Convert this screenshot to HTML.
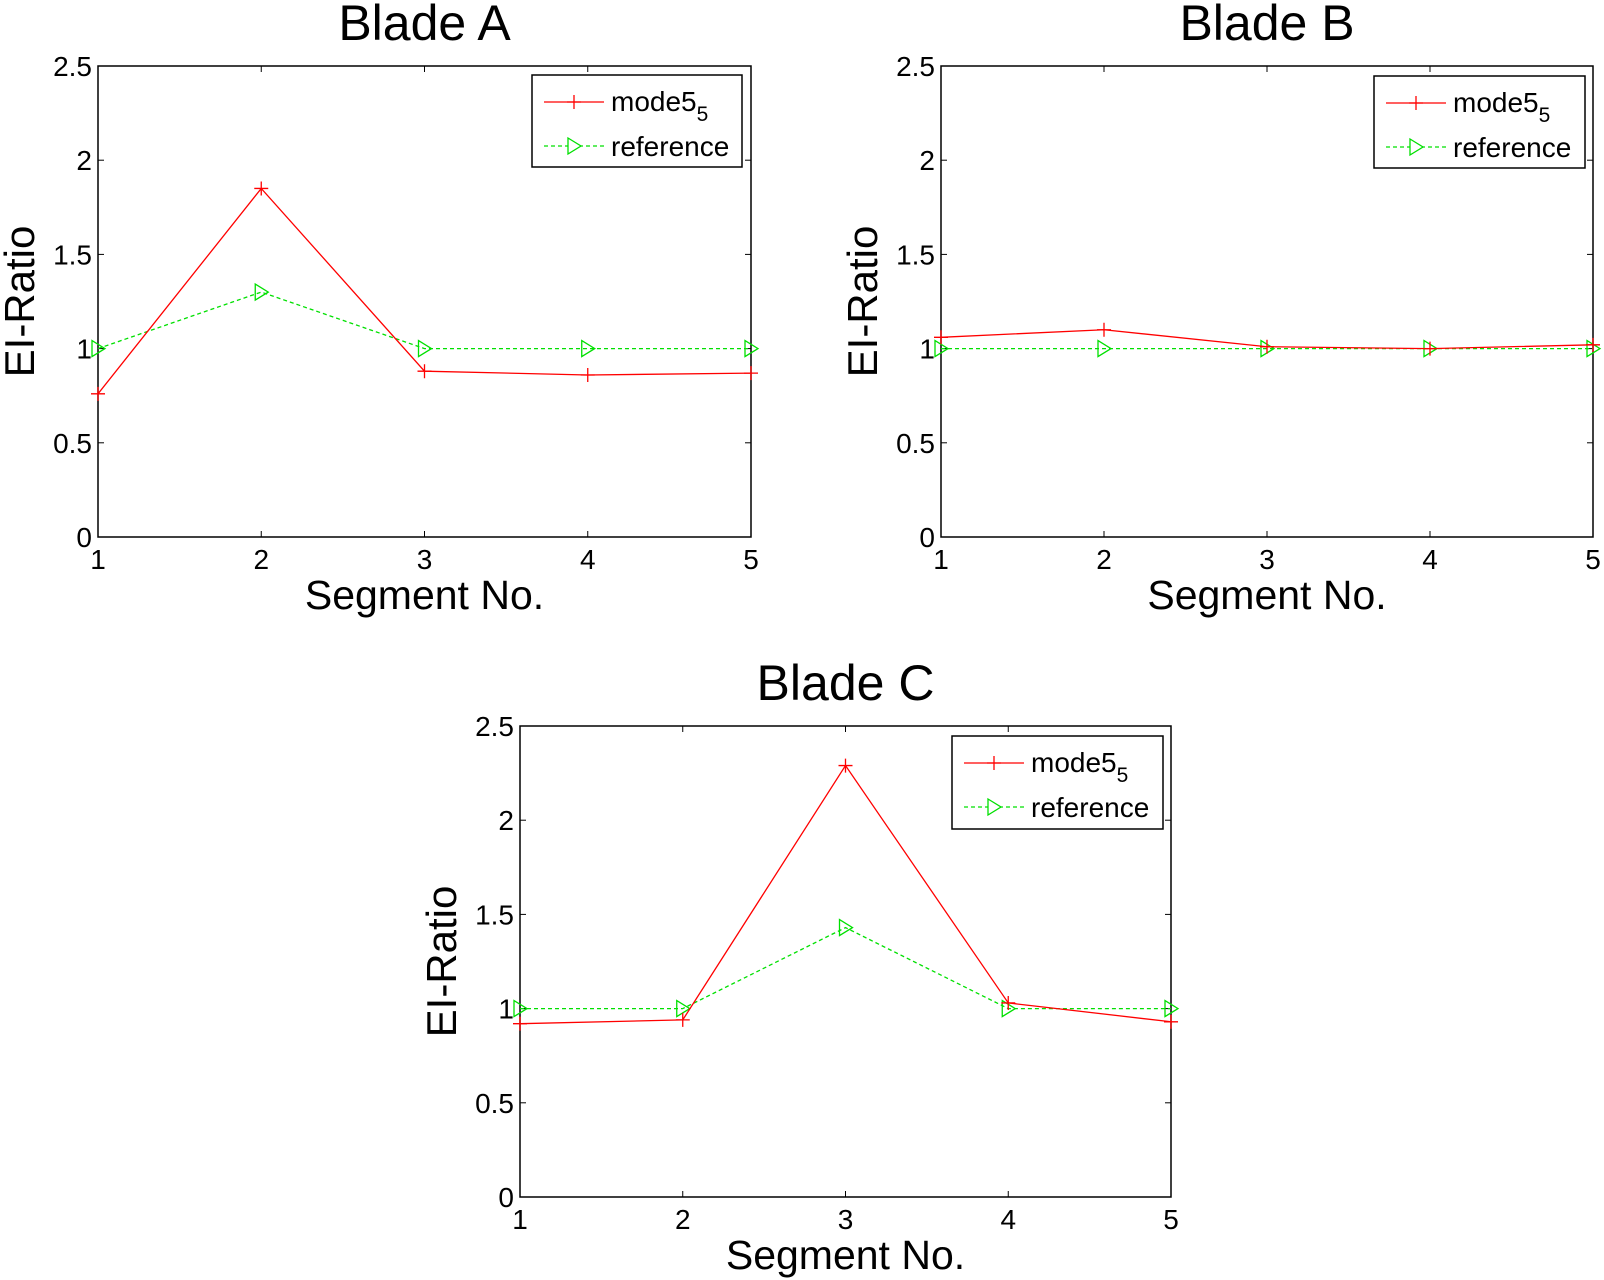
<!DOCTYPE html>
<html><head><meta charset="utf-8"><style>
html,body{margin:0;padding:0;background:#fff;}
svg{display:block;font-family:"Liberation Sans",Arial,sans-serif;}
</style></head><body>
<svg id="s" width="1604" height="1280" viewBox="0 0 1604 1280" xmlns="http://www.w3.org/2000/svg"></svg>
<script>
const s=document.getElementById('s');let h='';
const plots=[
 {L:98,R:751,T:66,B:537,title:'Blade A',m:[0.76,1.85,0.88,0.86,0.87],r:[1,1.3,1,1,1],lg:[532,75,742,167]},
 {L:941,R:1593,T:66,B:537,title:'Blade B',m:[1.06,1.1,1.01,1.0,1.02],r:[1,1,1,1,1],lg:[1374,76,1585,168]},
 {L:520,R:1171,T:726,B:1197,title:'Blade C',m:[0.92,0.94,2.29,1.03,0.93],r:[1,1,1.43,1,1],lg:[952,736,1163,829]}
];
for(const p of plots){
 const X=i=>p.L+(p.R-p.L)*i/4, Y=v=>p.B-(p.B-p.T)*v/2.5;
 const cx=(p.L+p.R)/2;
 h+=`<rect x="${p.L}" y="${p.T}" width="${p.R-p.L}" height="${p.B-p.T}" fill="none" stroke="#000" stroke-width="1.5"/>`;
 for(let i=0;i<5;i++){const x=X(i);
  h+=`<line x1="${x}" y1="${p.B}" x2="${x}" y2="${p.B-6}" stroke="#000"/><line x1="${x}" y1="${p.T}" x2="${x}" y2="${p.T+6}" stroke="#000"/>`;
  h+=`<text x="${x}" y="${p.B+32}" font-size="28" text-anchor="middle">${i+1}</text>`;}
 for(let k=0;k<=5;k++){const v=k*0.5,y=Y(v);
  h+=`<line x1="${p.L}" y1="${y}" x2="${p.L+6}" y2="${y}" stroke="#000"/><line x1="${p.R}" y1="${y}" x2="${p.R-6}" y2="${y}" stroke="#000"/>`;
  h+=`<text x="${p.L-6}" y="${y+10}" font-size="28" text-anchor="end">${v}</text>`;}
 h+=`<text x="${cx}" y="${p.T-26}" font-size="50" text-anchor="middle">${p.title}</text>`;
 h+=`<text x="${cx}" y="${p.B+72}" font-size="41" text-anchor="middle">Segment No.</text>`;
 h+=`<text transform="translate(${p.L-64},${(p.T+p.B)/2}) rotate(-90)" font-size="42" text-anchor="middle">EI-Ratio</text>`;
 h+=`<polyline points="${p.r.map((v,i)=>X(i)+','+Y(v)).join(' ')}" fill="none" stroke="#00e000" stroke-width="1.3" stroke-dasharray="4,3"/>`;
 p.r.forEach((v,i)=>{const x=X(i),y=Y(v);h+=`<polygon points="${x-6},${y-8} ${x+7},${y} ${x-6},${y+8}" fill="none" stroke="#00e000" stroke-width="1.3"/>`;});
 h+=`<polyline points="${p.m.map((v,i)=>X(i)+','+Y(v)).join(' ')}" fill="none" stroke="#ff0000" stroke-width="1.3"/>`;
 p.m.forEach((v,i)=>{const x=X(i),y=Y(v);h+=`<path d="M${x-7},${y}H${x+7}M${x},${y-7}V${y+7}" stroke="#ff0000" stroke-width="1.3"/>`;});
 const [a,b,c,d]=p.lg;
 h+=`<rect x="${a}" y="${b}" width="${c-a}" height="${d-b}" fill="#fff" stroke="#000" stroke-width="1.5"/>`;
 const y1=b+27,y2=b+71,lx1=a+12,lx2=a+72,mx=(lx1+lx2)/2;
 h+=`<line x1="${lx1}" y1="${y1}" x2="${lx2}" y2="${y1}" stroke="#ff0000" stroke-width="1.3"/><path d="M${mx-7},${y1}H${mx+7}M${mx},${y1-7}V${y1+7}" stroke="#ff0000" stroke-width="1.3"/>`;
 h+=`<line x1="${lx1}" y1="${y2}" x2="${lx2}" y2="${y2}" stroke="#00e000" stroke-width="1.3" stroke-dasharray="4,3"/><polygon points="${mx-6},${y2-8} ${mx+7},${y2} ${mx-6},${y2+8}" fill="#fff" stroke="#00e000" stroke-width="1.3"/>`;
 h+=`<text x="${a+79}" y="${y1+9}" font-size="28">mode5<tspan font-size="21" dy="10">5</tspan></text>`;
 h+=`<text x="${a+79}" y="${y2+10}" font-size="28">reference</text>`;
}
s.innerHTML=h;
</script>
</body></html>
